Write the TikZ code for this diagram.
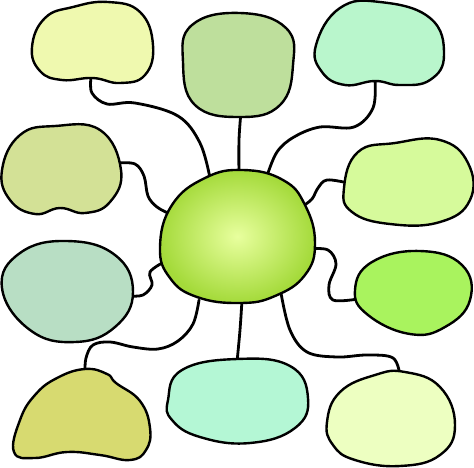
\documentclass[tikz,border=0pt]{standalone}
\begin{document}
\begin{tikzpicture}[x=1pt,y=-1pt,
  blob/.style={draw=black, line width=2.4pt, line join=round},
  conn/.style={draw=black, line width=2.8pt, line cap=round}]
\definecolor{cA}{HTML}{EFF9AF}
\definecolor{cB}{HTML}{BEDF9C}
\definecolor{cC}{HTML}{B9F6CC}
\definecolor{cD}{HTML}{D3E196}
\definecolor{cE}{HTML}{D6FA9B}
\definecolor{cG}{HTML}{B8DEC4}
\definecolor{cH}{HTML}{A9F35E}
\definecolor{cI}{HTML}{D7DA70}
\definecolor{cJ}{HTML}{B4F7D5}
\definecolor{cK}{HTML}{EDFFC1}
\definecolor{cin}{HTML}{E8FF9E}
\definecolor{cout}{HTML}{A4DA3A}
\useasboundingbox (0,0) rectangle (474,467);
\fill[white] (0,0) rectangle (474,467);

% attachment coordinates
\coordinate (b1s) at (91,78);
\coordinate (m1) at (210,178);
\coordinate (b2s) at (241,112);
\coordinate (m2) at (239,176);
\coordinate (b3s) at (375,80);
\coordinate (m3) at (267,176);
\coordinate (b4s) at (118,163);
\coordinate (m4) at (170,214);
\coordinate (b5s) at (348,183);
\coordinate (m5) at (303,206);
\coordinate (b7s) at (130,296);
\coordinate (m6) at (164,262);
\coordinate (m7) at (310,249);
\coordinate (b8s) at (358,299);
\coordinate (m8) at (199,300);
\coordinate (b9s) at (85,372);
\coordinate (m9) at (242,300);
\coordinate (b10s) at (237,362);
\coordinate (m10) at (281,293);
\coordinate (b11s) at (400,376);

% connectors
\draw[conn] plot[smooth, tension=0.6] coordinates {(b1s) (92,93) (107,104) (135,103) (178,116) (200,143) (m1)};
\draw[conn] plot[smooth, tension=0.6] coordinates {(b2s) (239,140) (m2)};
\draw[conn] plot[smooth, tension=0.6] coordinates {(b3s) (373,108) (354,127) (320,127) (294,137) (277,152) (m3)};
\draw[conn] plot[smooth, tension=0.6] coordinates {(b4s) (135,164) (144,176) (148,196) (157,207) (m4)};
\draw[conn] plot[smooth, tension=0.6] coordinates {(b5s) (327,180) (318,188) (312,199) (m5)};
\draw[conn] plot[smooth, tension=0.6] coordinates {(b7s) (143,295) (152,285) (150,272) (m6)};
\draw[conn] plot[smooth, tension=0.6] coordinates {(m7) (328,250) (336,264) (329,285) (333,300) (b8s)};
\draw[conn] plot[smooth, tension=0.6] coordinates {(m8) (193,324) (178,341) (158,349) (133,347) (110,342) (93,345) (86,358) (b9s)};
\draw[conn] plot[smooth, tension=0.6] coordinates {(m9) (240,330) (b10s)};
\draw[conn] plot[smooth, tension=0.6] coordinates {(m10) (290,330) (307,352) (337,357) (367,355) (393,358) (b11s)};

% blobs
\draw[blob, fill=cA] plot[smooth cycle, tension=0.75] coordinates {(32,47) (45,18) (73,7) (108,2) (140,12) (153,45) (145,75) (120,83) (93,78) (62,80) (40,71)};
\draw[blob, fill=cB] plot[smooth cycle, tension=0.75] coordinates {(183,62) (192,25) (240,13) (286,28) (293,65) (280,105) (240,117) (195,105)};
\draw[blob, fill=cC] plot[smooth cycle, tension=0.75] coordinates {(316,45) (340,8) (380,2) (430,18) (444,55) (430,80) (400,85) (375,81) (345,85) (322,72)};
\draw[blob, fill=cD] plot[smooth cycle, tension=0.75] coordinates {(2,170) (20,135) (55,126) (100,130) (121,170) (110,202) (85,213) (60,208) (35,214) (10,200)};
\draw[blob, fill=cE] plot[smooth cycle, tension=0.75] coordinates {(344,188) (358,152) (395,143) (440,140) (468,163) (470,200) (440,222) (390,224) (352,212)};
\draw[blob, fill=cG] plot[smooth cycle, tension=0.75] coordinates {(2,288) (20,253) (67,241) (115,255) (133,292) (115,327) (75,342) (30,330)};
\draw[blob, fill=cH] plot[smooth cycle, tension=0.75] coordinates {(355,290) (372,262) (420,251) (462,265) (470,300) (445,327) (410,334) (368,315)};
\draw[blob, fill=cI] plot[smooth cycle, tension=0.75] coordinates {(14,452) (20,420) (35,395) (57,378) (85,369) (107,374) (116,383) (140,401) (150,428) (146,450) (130,460) (100,455) (67,452) (35,458)};
\draw[blob, fill=cJ] plot[smooth cycle, tension=0.75] coordinates {(168,400) (182,370) (237,359) (290,366) (308,398) (295,428) (250,443) (200,437) (172,420)};
\draw[blob, fill=cK] plot[smooth cycle, tension=0.75] coordinates {(327,422) (340,392) (375,375) (405,372) (440,387) (455,425) (440,455) (400,466) (355,460) (333,445)};
\draw[blob, inner color=cin, outer color=cout] plot[smooth cycle, tension=0.75] coordinates {(160,247) (172,205) (205,178) (243,170) (283,180) (305,205) (315,243) (305,275) (275,296) (240,303) (197,297) (170,278)};
\end{tikzpicture}
\end{document}
